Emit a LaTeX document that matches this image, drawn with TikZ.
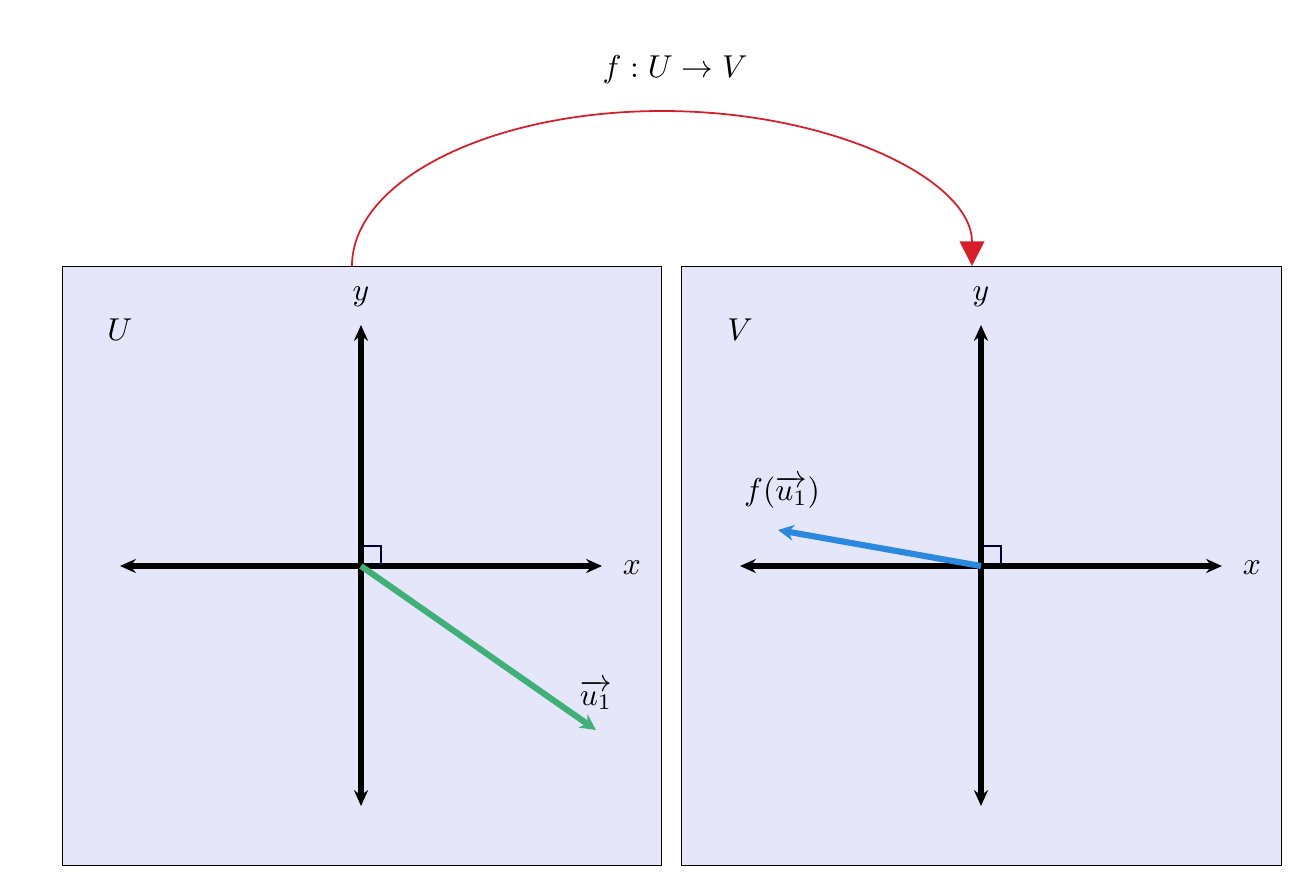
\documentclass[tikz,border=0pt]{standalone}
\usepackage{amsmath}
\usetikzlibrary{arrows.meta}
\definecolor{panel}{RGB}{230,230,250}
\definecolor{vgreen}{RGB}{64,176,120}
\definecolor{vblue}{RGB}{42,136,222}
\definecolor{mapred}{RGB}{214,30,40}
\begin{document}
\begin{tikzpicture}[x=0.02cm,y=-0.02cm, every node/.style={scale=1.8}]
            \useasboundingbox (0,0) rectangle (1316,896);
            \tikzset{axis/.style={line width=3pt, {Stealth[length=9pt,width=8pt]}-{Stealth[length=9pt,width=8pt]}},
                     vec/.style={line width=3.5pt, -{Stealth[length=9pt,width=9pt]}}}
            \draw[fill=panel] (62,266) rectangle (661,865);
            \draw[fill=panel] (681,266) rectangle (1281,865);
            \node at (120,330) (lu) {$U$};
            \node at (740,330) (lv) {$V$};

            \coordinate (o1) at (361,566);
            \coordinate (o2) at (981,566);
            \draw [axis] (120,566) -- (602,566);
            \draw [axis] (361,325) -- (361,806);
            \draw [axis] (740,566) -- (1222,566);
            \draw [axis] (981,325) -- (981,806);
            \node at (632,568) (x1) {$x$};
            \node at (361,297) (y1) {$y$};
            \node at (1252,568) (x2) {$x$};
            \node at (981,297) (y2) {$y$};
            \draw [line width=1.2pt, black!80!blue] (361,546) -- (381,546) -- (381,566);
            \draw [line width=1.2pt, black!80!blue] (981,546) -- (1001,546) -- (1001,566);

            \coordinate (u1) at (596,730);
            \coordinate (fu1) at (778,530);
            \draw [vec, vgreen] (o1) -- (u1);
            \draw [vec, vblue] (o2) -- (fu1);
            \node at (596,695) (lu1) {$\overrightarrow{u_1}$};
            \node at (782,492) (lfu1) {$f(\overrightarrow{u_1})$};

            \coordinate (s) at (352,266);
            \coordinate (t) at (972,266);
            \draw [mapred, line width=1pt, -{Triangle[length=14pt,width=14pt]}] (s) arc[start angle=180, end angle=0, x radius=310, y radius=-155];
            \node at (675,70) (title) {$f : U \to V$};
        \end{tikzpicture}
\end{document}
